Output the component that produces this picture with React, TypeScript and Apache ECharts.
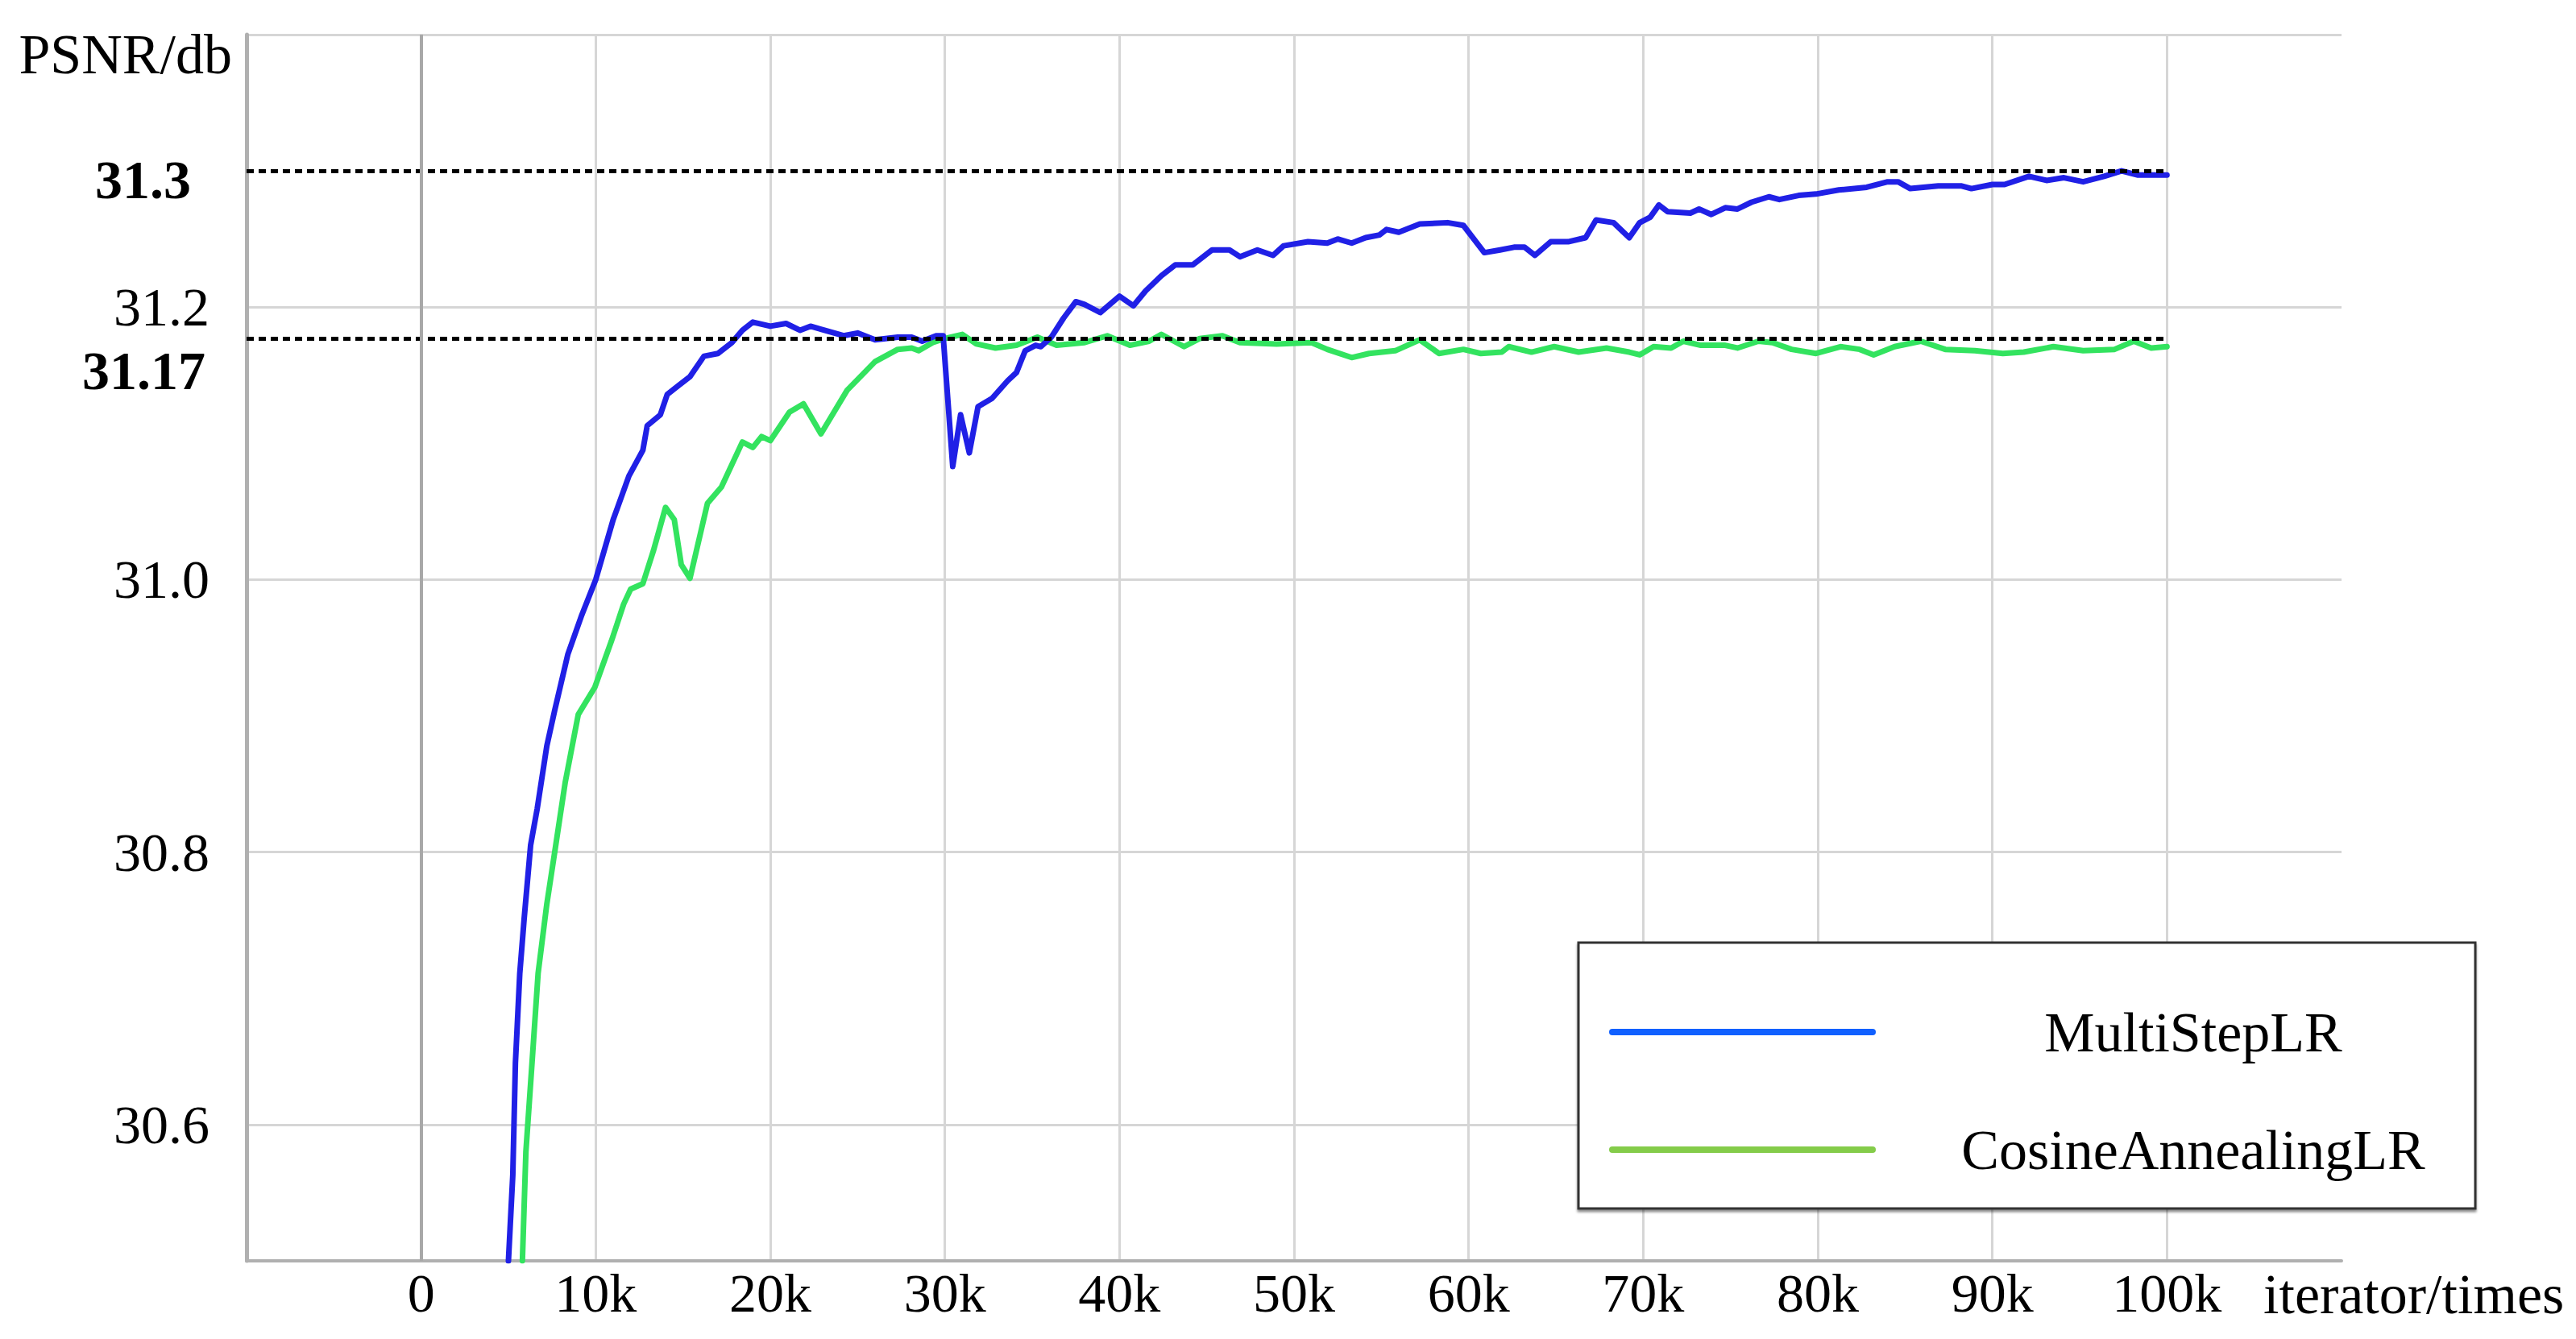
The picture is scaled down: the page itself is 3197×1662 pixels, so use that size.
import React, { useEffect, useRef } from "react";
import * as echarts from "echarts";

// ---- data (iterations in k, PSNR in dB) ----
const multiStepIterK = [
  5.0, 5.25, 5.4, 5.65, 5.9, 6.27, 6.65, 7.2, 7.65, 8.4, 9.2, 10.0, 11.0, 11.9, 12.7, 12.95, 13.7, 14.1, 14.7,
  15.4, 16.2, 17.0, 17.8, 18.4, 19.0, 20.0, 20.9, 21.7, 22.3, 23.1, 24.2, 25.0, 26.0, 27.3, 28.1, 28.7, 29.5,
  29.9, 30.45, 30.9, 31.4, 31.9, 32.7, 33.6, 34.1, 34.6, 35.2, 35.5, 36.1, 36.8, 37.5, 38.0, 38.9, 40.0, 40.8,
  41.5, 42.4, 43.2, 44.2, 45.3, 46.3, 46.9, 47.9, 48.8, 49.4, 50.8, 51.9, 52.5, 53.3, 54.1, 54.9, 55.3, 56.0,
  57.2, 58.8, 59.7, 60.9, 61.8, 62.6, 63.2, 63.8, 64.7, 65.7, 66.7, 67.3, 68.3, 69.2, 69.8, 70.4, 70.9, 71.4,
  72.7, 73.2, 73.9, 74.7, 75.4, 76.2, 77.2, 77.8, 78.9, 79.9, 81.2, 82.8, 84.0, 84.6, 85.3, 86.9, 88.2, 88.8,
  90.0, 90.7, 92.1, 93.1, 94.1, 95.2, 96.4, 97.4, 98.3, 100.0,
];
const multiStepPsnr = [
  30.5, 30.563, 30.645, 30.711, 30.751, 30.805, 30.832, 30.878, 30.904, 30.945, 30.974, 31.0, 31.044, 31.076,
  31.095, 31.113, 31.121, 31.136, 31.142, 31.149, 31.164, 31.166, 31.174, 31.183, 31.189, 31.186, 31.188,
  31.183, 31.186, 31.183, 31.179, 31.181, 31.176, 31.178, 31.178, 31.175, 31.179, 31.179, 31.083, 31.121,
  31.093, 31.127, 31.133, 31.146, 31.152, 31.168, 31.172, 31.171, 31.178, 31.192, 31.204, 31.202, 31.196,
  31.208, 31.201, 31.212, 31.223, 31.231, 31.231, 31.242, 31.242, 31.237, 31.242, 31.238, 31.245, 31.248,
  31.247, 31.25, 31.247, 31.251, 31.253, 31.257, 31.255, 31.261, 31.262, 31.26, 31.24, 31.242, 31.244, 31.244,
  31.238, 31.248, 31.248, 31.251, 31.264, 31.262, 31.251, 31.262, 31.266, 31.275, 31.27, 31.269, 31.272,
  31.268, 31.273, 31.272, 31.277, 31.281, 31.279, 31.282, 31.283, 31.286, 31.288, 31.292, 31.292, 31.287,
  31.289, 31.289, 31.287, 31.29, 31.29, 31.296, 31.293, 31.295, 31.292, 31.296, 31.3, 31.297, 31.297,
];

const cosineIterK = [
  5.8, 6.0, 6.35, 6.7, 7.2, 7.65, 8.25, 9.0, 9.95, 10.9, 11.6, 12.0, 12.7, 13.3, 14.0, 14.5, 14.9, 15.4, 16.4,
  17.2, 18.4, 19.0, 19.5, 20.0, 21.1, 21.9, 22.9, 24.4, 26.0, 27.3, 28.1, 28.5, 29.3, 30.0, 31.0, 31.8, 32.9,
  34.1, 35.3, 36.4, 38.0, 39.3, 40.6, 41.7, 42.4, 43.7, 44.6, 45.9, 46.9, 49.0, 51.0, 51.9, 53.3, 54.3, 55.8,
  57.2, 58.3, 59.7, 60.7, 61.9, 62.3, 63.6, 64.9, 66.3, 67.9, 69.2, 69.8, 70.6, 71.6, 72.3, 73.3, 74.7, 75.4,
  76.6, 77.4, 78.5, 79.9, 81.3, 82.4, 83.2, 84.4, 85.9, 87.3, 89.0, 90.6, 91.8, 93.5, 95.2, 97.0, 98.1, 99.1,
  100.0,
];
const cosinePsnr = [
  30.5, 30.58, 30.645, 30.711, 30.762, 30.8, 30.851, 30.901, 30.921, 30.955, 30.982, 30.993, 30.997, 31.021,
  31.053, 31.044, 31.011, 31.001, 31.056, 31.068, 31.101, 31.097, 31.105, 31.102, 31.123, 31.129, 31.107,
  31.139, 31.16, 31.169, 31.17, 31.168, 31.174, 31.177, 31.18, 31.173, 31.17, 31.172, 31.178, 31.172, 31.174,
  31.179, 31.172, 31.175, 31.18, 31.171, 31.177, 31.179, 31.174, 31.173, 31.174, 31.169, 31.163, 31.166,
  31.168, 31.176, 31.166, 31.169, 31.166, 31.167, 31.171, 31.167, 31.171, 31.167, 31.17, 31.167, 31.165,
  31.171, 31.17, 31.175, 31.172, 31.172, 31.17, 31.175, 31.174, 31.169, 31.166, 31.171, 31.169, 31.165,
  31.171, 31.175, 31.169, 31.168, 31.166, 31.167, 31.171, 31.168, 31.169, 31.175, 31.17, 31.171,
];

const seriesNames = ["MultiStepLR", "CosineAnnealingLR"];
const refLevels = [31.3, 31.177];
const refLabels = ["31.3", "31.17"];
const xRange = [-10000, 110000];
const yRange = [30.5, 31.4];
const refLineEnd = 100000;

const FONT = "'Liberation Serif', 'Times New Roman', serif";

export default function App() {
  const ref = useRef<HTMLDivElement>(null);

  useEffect(() => {
    if (!ref.current) return;
    const chart = echarts.init(ref.current, null, { renderer: "svg" });

    const blueData = multiStepIterK.map((k, i) => [k * 1000, multiStepPsnr[i]]);
    const greenData = cosineIterK.map((k, i) => [k * 1000, cosinePsnr[i]]);

    const labelDist = [69, 51];
    const labelLineHeight = [22, 80];
    const dashStyle = { color: "#000", width: 5, type: [9, 6] as number[] };

    const refLines: any[] = refLevels.map((lv, i) => {
      const label = {
        show: true,
        position: "start",
        formatter: refLabels[i],
        distance: labelDist[i],
        verticalAlign: "top",
        lineHeight: labelLineHeight[i],
        fontSize: 68,
        fontWeight: "bold",
        fontFamily: FONT,
        color: "#000",
      };
      return [
        { coord: [xRange[0], lv], label, lineStyle: dashStyle },
        { coord: [refLineEnd, lv], label, lineStyle: dashStyle },
      ];
    });
    const zeroStyle = { color: "#a8a8a8", width: 4, type: "solid" };
    refLines.push([
      { coord: [0, yRange[0]], label: { show: false }, lineStyle: zeroStyle },
      { coord: [0, yRange[1]], label: { show: false }, lineStyle: zeroStyle },
    ]);

    chart.setOption({
      animation: false,
      backgroundColor: "#fff",
      grid: { left: 306, top: 43, right: 291, bottom: 97, containLabel: false },
      xAxis: {
        type: "value",
        min: xRange[0],
        max: xRange[1],
        interval: 10000,
        name: "iterator/times",
        nameLocation: "end",
        nameGap: -97,
        nameTextStyle: {
          fontSize: 70,
          fontFamily: FONT,
          color: "#000",
          align: "left",
          verticalAlign: "top",
          lineHeight: 70,
          padding: [6, 0, 0, 0],
        },
        axisLine: { show: true, onZero: false, lineStyle: { color: "#b0b0b0", width: 4 } },
        axisTick: { show: false },
        axisLabel: {
          showMinLabel: false,
          showMaxLabel: false,
          margin: 6,
          fontSize: 68,
          lineHeight: 68,
          fontFamily: FONT,
          color: "#000",
          formatter: (v: number) => (v === 0 ? "0" : `${v / 1000}k`),
        },
        splitLine: { show: true, showMaxLine: false, lineStyle: { color: "#d6d6d6", width: 3 } },
      },
      yAxis: {
        type: "value",
        min: yRange[0],
        max: yRange[1],
        splitNumber: 5,
        name: "PSNR/db",
        nameLocation: "end",
        nameGap: -24,
        nameTextStyle: {
          fontSize: 70,
          fontFamily: FONT,
          color: "#000",
          align: "right",
          verticalAlign: "middle",
          padding: [0, 18, 0, 0],
        },
        axisLine: { show: true, onZero: false, lineStyle: { color: "#b0b0b0", width: 5 } },
        axisTick: { show: false },
        axisLabel: {
          showMinLabel: false,
          showMaxLabel: false,
          margin: 46,
          fontSize: 68,
          fontFamily: FONT,
          color: "#000",
          formatter: (v: number) => v.toFixed(1),
        },
        splitLine: { show: true, showMinLine: false, lineStyle: { color: "#d6d6d6", width: 3 } },
      },
      legend: {
        orient: "vertical",
        left: 1959,
        top: 1170,
        padding: [76, 0, 38, 38],
        itemGap: 76,
        itemWidth: 323,
        itemHeight: 80,
        selectedMode: false,
        backgroundColor: "#fff",
        borderColor: "#333",
        borderWidth: 3,
        borderRadius: 0,
        shadowColor: "rgba(0,0,0,0.45)",
        shadowBlur: 3,
        shadowOffsetY: 3,
        formatter: "{a|{name}}",
        itemStyle: { opacity: 0 },
        lineStyle: { width: 8, cap: "round" },
        textStyle: {
          fontSize: 70,
          fontFamily: FONT,
          color: "#000",
          rich: {
            a: {
              width: 700,
              align: "center",
              padding: [0, 0, 0, 43],
              fontSize: 70,
              lineHeight: 80,
              fontFamily: FONT,
              color: "#000",
            },
          },
        },
        data: [
          {
            name: seriesNames[0],
            itemStyle: { opacity: 0 },
            lineStyle: { color: "#1060ff", width: 8, cap: "round" },
          },
          {
            name: seriesNames[1],
            itemStyle: { opacity: 0 },
            lineStyle: { color: "#84cc4a", width: 8, cap: "round" },
          },
        ],
      },
      series: [
        {
          name: seriesNames[0],
          type: "line",
          data: blueData,
          symbol: "none",
          showSymbol: false,
          lineStyle: { color: "#2020e6", width: 7, join: "round", cap: "round" },
          itemStyle: { color: "#2020e6" },
          z: 3,
        },
        {
          name: seriesNames[1],
          type: "line",
          data: greenData,
          symbol: "none",
          showSymbol: false,
          lineStyle: { color: "#33e35f", width: 7, join: "round", cap: "round" },
          itemStyle: { color: "#33e35f" },
          z: 2,
        },
        {
          name: "guides",
          type: "line",
          data: [],
          clip: false,
          z: 4,
          markLine: {
            silent: true,
            symbol: ["none", "none"],
            animation: false,
            data: refLines,
          },
        },
      ],
    });

    return () => chart.dispose();
  }, []);

  return (
    <div
      ref={ref}
      style={{ position: "absolute", left: 0, top: 0, width: 3197, height: 1662, background: "#fff" }}
    />
  );
}
